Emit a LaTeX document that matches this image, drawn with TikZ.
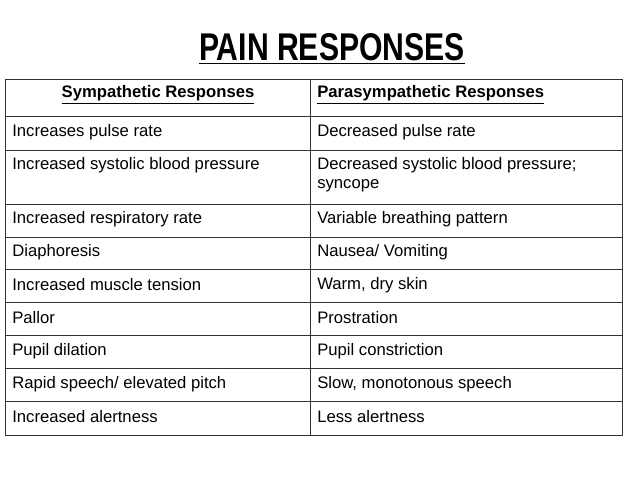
\documentclass[tikz,border=0pt]{standalone}
\usepackage{fontspec}
\setmainfont{Liberation Sans}
\begin{document}
\begin{tikzpicture}[x=0.75pt,y=-0.75pt,
  cell/.style={anchor=west,inner sep=0pt,font=\fontsize{12.5}{15}\selectfont},
  hdr/.style={inner sep=0pt,font=\bfseries\fontsize{12.5}{15}\selectfont},
  grid/.style={draw=black!80,line width=0.6pt}]
\useasboundingbox (0,0) rectangle (638,478);
\node[inner sep=0pt,xscale=0.78,font=\bfseries\fontsize{29}{32}\selectfont] (title) at (332,49) {\underline{PAIN RESPONSES}};
\draw[grid] (5,79) rectangle (622,435);
\foreach \y in {116,150,204,237,269,302,335,368,401} \draw[grid] (5,\y) -- (622,\y);
\draw[grid] (310,79) -- (310,435);
\node[hdr] (h1) at (158,95) {\underline{Sympathetic Responses}};
\node[hdr,anchor=west] (h2) at (317,95) {\underline{Parasympathetic Responses}};
\node[cell] (a1) at (12,132) {Increases pulse rate};
\node[cell] (b1) at (317,132) {Decreased pulse rate};
\node[cell] (a2) at (12,165) {Increased systolic blood pressure};
\node[cell] (b2) at (317,165) {Decreased systolic blood pressure;};
\node[cell] (b2b) at (317,186) {syncope};
\node[cell] (a3) at (12,219) {Increased respiratory rate};
\node[cell] (b3) at (317,219) {Variable breathing pattern};
\node[cell] (a4) at (12,252) {Diaphoresis};
\node[cell] (b4) at (317,252) {Nausea/ Vomiting};
\node[cell] (a5) at (12,285) {Increased muscle tension};
\node[cell] (b5) at (317,285) {Warm, dry skin};
\node[cell] (a6) at (12,318) {Pallor};
\node[cell] (b6) at (317,318) {Prostration};
\node[cell] (a7) at (12,351) {Pupil dilation};
\node[cell] (b7) at (317,351) {Pupil constriction};
\node[cell] (a8) at (12,384) {Rapid speech/ elevated pitch};
\node[cell] (b8) at (317,384) {Slow, monotonous speech};
\node[cell] (a9) at (12,417) {Increased alertness};
\node[cell] (b9) at (317,417) {Less alertness};
\end{tikzpicture}
\end{document}
